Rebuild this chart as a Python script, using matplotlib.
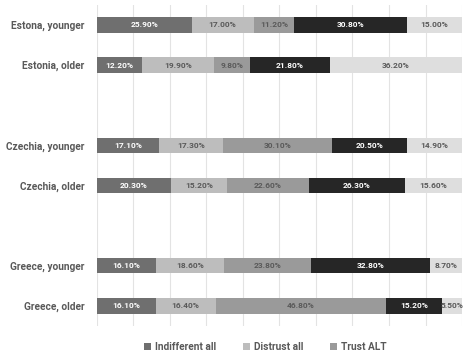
import numpy as np
import matplotlib.pyplot as plt

# rows from top to bottom, blank strings are the spacer rows
rows = ["Estona, younger", "Estonia, older", "",
        "Czechia, younger", "Czechia, older", "",
        "Greece, younger", "Greece, older"]

series_names = ["Indifferent all", "Distrust all", "Trust ALT", "Trust all", "Other"]

indifferent = [25.9, 12.2, np.nan, 17.1, 20.3, np.nan, 16.1, 16.1]
distrust = [17.0, 19.9, np.nan, 17.3, 15.2, np.nan, 18.6, 16.4]
trust_alt = [11.2, 9.8, np.nan, 30.1, 22.6, np.nan, 23.8, 46.8]
trust_all = [30.8, 21.8, np.nan, 20.5, 26.3, np.nan, 32.8, 15.2]
other = [15.0, 36.2, np.nan, 14.9, 15.6, np.nan, 8.7, 5.5]

colors = ["#6f6f6f", "#bdbdbd", "#9a9a9a", "#262626", "#dedede"]
label_colors = ["white", "#595959", "#595959", "white", "#595959"]

plt.rcParams['font.family'] = ['Roboto', 'DejaVu Sans']

fig = plt.figure(figsize=(4.74, 3.64), dpi=100)
ax = fig.add_axes([0.2046, 0.1044, 0.7701, 0.8821])

y = np.arange(len(rows))
left = np.zeros(len(rows))
for vals, name, col, lcol in zip([indifferent, distrust, trust_alt, trust_all, other],
                                 series_names, colors, label_colors):
    v = np.array(vals, dtype=float)
    bars = ax.barh(y, np.nan_to_num(v), left=left, height=0.38, color=col, label=name, zorder=2)
    labels = ["" if np.isnan(a) else f"{a:.2f}%" for a in v]
    ax.bar_label(bars, labels=labels, label_type='center', color=lcol,
                 fontsize=6.0, fontweight='bold')
    left += np.nan_to_num(v)

ax.set_xlim(0, 100)
ax.set_ylim(len(rows) - 0.5, -0.5)
ax.set_xticks(np.arange(0, 101, 10))
ax.set_xticklabels([])
ax.tick_params(axis='x', length=0)
ax.tick_params(axis='y', length=0, pad=9)
ax.set_yticks(y)
ax.set_yticklabels(rows, fontsize=7.3, fontweight='bold', color='#595959')
ax.grid(axis='x', color='#e3e3e3', linewidth=0.8, zorder=0)
for s in ax.spines.values():
    s.set_visible(False)

handles, lbls = ax.get_legend_handles_labels()
fig.legend(handles[:3], lbls[:3], loc='center', bbox_to_anchor=(0.56, 0.047),
           ncol=3, frameon=False, handlelength=0.7, handleheight=0.7,
           columnspacing=2.6, handletextpad=0.4,
           prop={'weight': 'bold', 'size': 7.3}, labelcolor='#595959')

fig.savefig("out.png", dpi=100)
